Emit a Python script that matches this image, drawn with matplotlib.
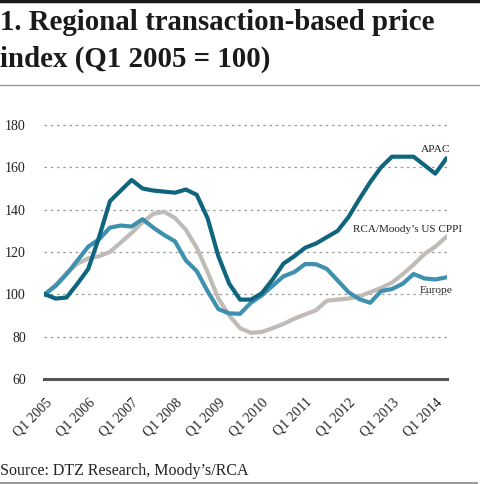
import matplotlib
matplotlib.use("Agg")
import matplotlib.pyplot as plt
from matplotlib.lines import Line2D

# quarterly index, Q1 2005 .. Q2 2014
quarters = [2005 + i / 4 for i in range(38)]

apac = [100, 98, 98.5, 105, 112, 127, 144, 149, 154, 150,
        149, 148.5, 148, 149.5, 147, 136, 118, 105, 97.5, 97.5,
        100.5, 107, 114.5, 118, 122, 124, 127, 130, 136.5, 145,
        153, 160, 165, 165, 165, 161, 157, 164]

europe = [100, 104, 109.5, 116, 122.5, 126, 131.5, 132.5, 132, 135.5,
          131.5, 128, 125, 116, 111, 101.5, 93, 91, 90.8, 96,
          99.5, 104, 108.5, 110.5, 114.3, 114.2, 112, 106.5, 101, 97.7,
          96, 101.5, 102.5, 105, 109.6, 107.5, 107, 108]

cppi = [100, 104.5, 110, 114.5, 117, 118, 120, 124.5, 129, 134,
        138, 139, 136, 130.5, 122, 110.5, 98, 90, 84, 81.8,
        82.2, 84, 86, 88.5, 90.5, 92.5, 97, 97.5, 98, 99,
        101, 103, 105.5, 109.5, 114, 119, 122.5, 127]

year_ticks = list(range(2005, 2015))
year_labels = ["Q1 %d" % y for y in year_ticks]
y_ticks = [60, 80, 100, 120, 140, 160, 180]

APAC_COL = "#0f657e"
EUR_COL = "#3d90ae"
CPPI_COL = "#c0bbb6"

plt.rcParams["font.family"] = ["Liberation Serif", "DejaVu Serif"]

fig = plt.figure(figsize=(4.8, 4.84), dpi=100)
ax = fig.add_axes([44 / 480, 1 - 379 / 484, (447 - 44) / 480, (379 - 108) / 484])

ax.plot(quarters, cppi, color=CPPI_COL, lw=3, solid_joinstyle="round", zorder=3)
ax.plot(quarters, europe, color=EUR_COL, lw=3, solid_joinstyle="round", zorder=4)
ax.plot(quarters, apac, color=APAC_COL, lw=3, solid_joinstyle="round", zorder=5)

ax.set_xlim(2005 - 0.02, 2014.25 + 0.02)
ax.set_ylim(60, 188)
ax.set_yticks(y_ticks)
ax.set_yticklabels([str(v) for v in y_ticks], fontsize=10, color="#222222")
ax.set_xticks(year_ticks)
ax.set_xticklabels(year_labels, rotation=45, ha="right", va="top",
                   rotation_mode="anchor", fontsize=10, color="#222222")
ax.tick_params(axis="both", length=0)
ax.tick_params(axis="x", pad=12)
ax.tick_params(axis="y", pad=13)

for v in y_ticks[1:]:
    ax.axhline(v, color="#999999", lw=0.9, ls=(0, (2, 3)), zorder=1)
for s in ["top", "right", "left"]:
    ax.spines[s].set_visible(False)
ax.spines["bottom"].set_color("#555555")
ax.spines["bottom"].set_linewidth(2.2)

ax.text(2014.35, 168.5, "APAC", fontsize=8.2, ha="right", va="center", color="#222222")
ax.text(2014.62, 130.5, "RCA/Moody\u2019s US CPPI", fontsize=8, ha="right", va="center", color="#222222")
ax.text(2014.39, 101.8, "Europe", fontsize=8.2, ha="right", va="center", color="#222222")

fig.text(0.0, 1 - 9 / 484, "1. Regional transaction-based price\nindex (Q1 2005 = 100)",
         fontsize=20.8, fontweight="bold", ha="left", va="top",
         linespacing=1.45, color="#1a1a1a")
fig.text(0.0, 1 - 471 / 484, "Source: DTZ Research, Moody\u2019s/RCA",
         fontsize=11.5, ha="left", va="center", color="#222222")

fig.add_artist(Line2D([0, 1], [1 - 1 / 484, 1 - 1 / 484], color="#1a1a1a", lw=2.5))
fig.add_artist(Line2D([0, 1], [1 - 85 / 484, 1 - 85 / 484], color="#999999", lw=1))
fig.add_artist(Line2D([0, 477 / 480], [1 - 482.5 / 484, 1 - 482.5 / 484], color="#888888", lw=1.2))

fig.savefig("out.png", dpi=100)
